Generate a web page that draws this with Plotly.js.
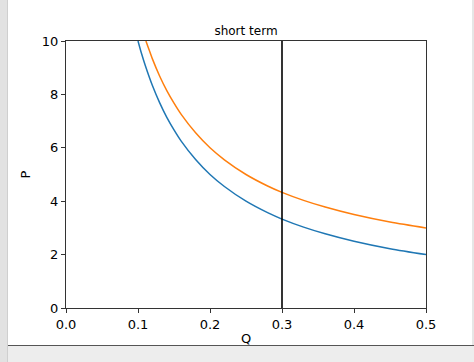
<!DOCTYPE html>
<html>
<head>
<meta charset="utf-8">
<script src="https://cdn.plot.ly/plotly-3.0.1.min.js"></script>
<style>
  html, body { margin: 0; padding: 0; background: #ffffff; }
  #wrap { position: relative; width: 474px; height: 362px; overflow: hidden; }
  #chart { position: absolute; left: 0; top: 0; width: 474px; height: 362px; }
  .strip { position: absolute; pointer-events: none; }
</style>
</head>
<body>
<div id="wrap">
  <div id="chart"></div>
  <div class="strip" style="left:0;top:0;width:7px;height:362px;background:#e2e2e2;border-right:1px solid #cfcfcf;"></div>
  <div class="strip" style="left:472px;top:0;width:2px;height:362px;background:#e6e6e6;"></div>
  <div class="strip" style="left:8px;top:345px;width:466px;height:17px;background:#ededed;border-top:1px solid #555;"></div>
</div>
<script>
// Values
const qBlue = [0.1, 0.105, 0.11, 0.12, 0.13, 0.14, 0.15, 0.16, 0.18, 0.2, 0.22, 0.25, 0.28, 0.3, 0.33, 0.36, 0.4, 0.45, 0.5];
const pBlue = [10, 9.52, 9.09, 8.33, 7.69, 7.14, 6.67, 6.25, 5.56, 5.0, 4.55, 4.0, 3.57, 3.33, 3.03, 2.78, 2.5, 2.22, 2.0];
const qOrange = [0.111, 0.115, 0.12, 0.13, 0.14, 0.15, 0.16, 0.18, 0.2, 0.22, 0.25, 0.28, 0.3, 0.33, 0.36, 0.4, 0.45, 0.5];
const pOrange = [10, 9.70, 9.33, 8.69, 8.14, 7.67, 7.25, 6.56, 6.0, 5.55, 5.0, 4.57, 4.33, 4.03, 3.78, 3.5, 3.22, 3.0];
const cutQ = [0.3, 0.3];
const cutP = [0, 10];
const xTicks = [0.0, 0.1, 0.2, 0.3, 0.4, 0.5];
const xTickText = ["0.0", "0.1", "0.2", "0.3", "0.4", "0.5"];
const yTicks = [0, 2, 4, 6, 8, 10];
const yTickText = ["0", "2", "4", "6", "8", "10"];

const font = { family: "DejaVu Sans, sans-serif", size: 13, color: "#000000" };

const traces = [
  { x: qBlue, y: pBlue, mode: "lines", line: { color: "#1f77b4", width: 1.5, shape: "spline", smoothing: 0.8 }, hoverinfo: "skip" },
  { x: qOrange, y: pOrange, mode: "lines", line: { color: "#ff7f0e", width: 1.5, shape: "spline", smoothing: 0.8 }, hoverinfo: "skip" },
  { x: cutQ, y: cutP, mode: "lines", line: { color: "#000000", width: 1.6 }, hoverinfo: "skip" }
];

const axisCommon = {
  showgrid: false, zeroline: false, showline: true, mirror: true,
  linecolor: "#333333", linewidth: 1, ticks: "outside", ticklen: 4, tickwidth: 1, tickcolor: "#333333",
  tickfont: font
};

const layout = {
  width: 474, height: 362,
  margin: { l: 66, r: 48, t: 41, b: 54 },
  paper_bgcolor: "#ffffff", plot_bgcolor: "#ffffff",
  showlegend: false,
  font: font,
  title: { text: "short term", font: { family: "DejaVu Sans, sans-serif", size: 12, color: "#000000" },
           x: 0.519, xanchor: "center", yref: "container", y: 0.914, yanchor: "middle" },
  xaxis: Object.assign({}, axisCommon, {
    range: [0, 0.5], tickvals: xTicks, ticktext: xTickText,
    title: { text: "Q", font: font, standoff: 3 }
  }),
  yaxis: Object.assign({}, axisCommon, {
    range: [0, 10], tickvals: yTicks, ticktext: yTickText,
    title: { text: "P", font: font, standoff: 8 }
  })
};

Plotly.newPlot("chart", traces, layout, { staticPlot: true, displayModeBar: false });
</script>
</body>
</html>
